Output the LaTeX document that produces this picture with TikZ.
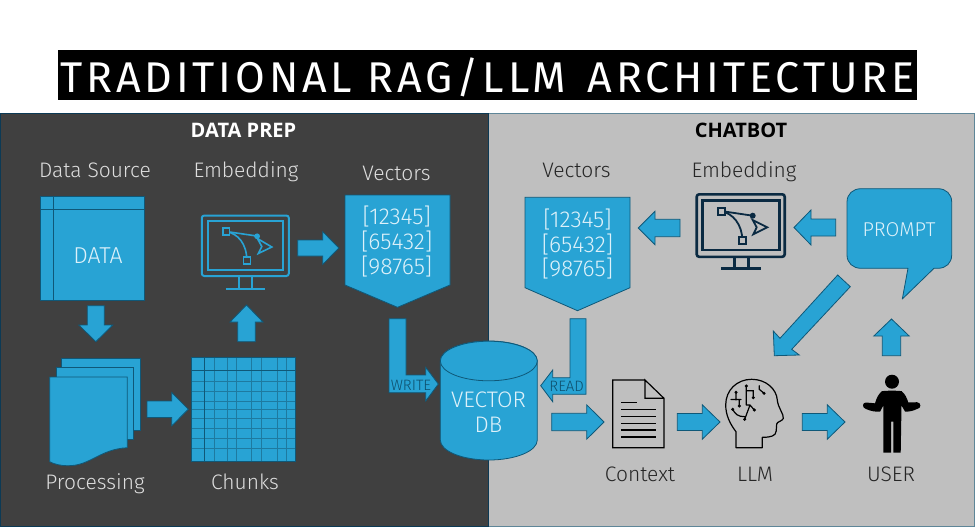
\documentclass[tikz,border=0pt]{standalone}
\usepackage{fontspec}
\setmainfont{Fira Sans}[UprightFont=* Light,BoldFont=* SemiBold]
\newfontfamily\headfont{Open Sans}
\newfontfamily\titlefont{Fira Sans}[LetterSpace=9]
\definecolor{rblue}{HTML}{28A3D4}
\definecolor{redge}{HTML}{0F5878}
\definecolor{rdark}{HTML}{404040}
\definecolor{rgray}{HTML}{BFBFBF}
\definecolor{rnavy}{HTML}{0A2A42}
\definecolor{rlight}{HTML}{DDF1FA}
\definecolor{rlabel}{HTML}{DEDEDE}
\definecolor{rink}{HTML}{262626}
\definecolor{rgrid}{HTML}{1E7AA0}
\tikzset{
  shape blue/.style={fill=rblue,draw=redge,line width=0.8pt,line join=miter},
  lab/.style={inner sep=0pt,anchor=base,yshift=-1pt,font=\fontsize{21}{21}\selectfont},
  lab dark/.style={lab,text=rlabel},
  lab light/.style={lab,text=rink},
  inblue/.style={inner sep=0pt,anchor=base,yshift=-1pt,text=rlight},
  head lab/.style={inner sep=0pt,anchor=base,yshift=-0.5pt,font=\headfont\bfseries\fontsize{20}{20}\selectfont},
  small arrow lab/.style={inner sep=0pt,anchor=base,text=redge!90!black,font=\fontsize{15}{15}\selectfont},
  dotline/.style={line width=1.2pt,draw=black,line cap=round},
}
% horizontal block arrow: xstart, xheadbase, xtip, ymid, shaft half, head half
\newcommand{\harrow}[6]{\draw[shape blue] (#1,#4-#5) -- (#2,#4-#5) -- (#2,#4-#6) -- (#3,#4) -- (#2,#4+#6) -- (#2,#4+#5) -- (#1,#4+#5) -- cycle;}
% vertical block arrow: xmid, ystart, yheadbase, ytip, shaft half, head half
\newcommand{\varrow}[6]{\draw[shape blue] (#1-#5,#2) -- (#1-#5,#3) -- (#1-#6,#3) -- (#1,#4) -- (#1+#6,#3) -- (#1+#5,#3) -- (#1+#5,#2) -- cycle;}
\begin{document}
\begin{tikzpicture}[x=1pt,y=-1pt]
\useasboundingbox (0,0) rectangle (975,528);
\fill[white] (0,0) rectangle (975,528);
% title
\fill[black] (58,50) rectangle (917,100);
\node[inner sep=0pt,anchor=base west,text=white] (title) at (60,92) {\titlefont\fontsize{43}{43}\selectfont TRADITIONAL RAG/LLM\hspace{6pt} ARCHITECTURE};
% panels
\draw[fill=rgray,draw=rgray!45!redge,line width=1pt] (488,113.5) rectangle (974.5,526.5);
\draw[fill=rdark,draw=rnavy!65!redge,line width=1pt] (0.5,113.5) rectangle (488,526.5);
\node[head lab,text=white] (dataprep) at (243.5,137) {DATA PREP};
\node[head lab,text=black] (chatbot) at (741,137) {CHATBOT};
% labels
\node[lab dark] (lsource) at (95,176.7) {Data Source};
\node[lab dark] (lemb) at (246,176.7) {Embedding};
\node[lab dark] (lvec) at (396.5,179.3) {Vectors};
\node[lab dark] (lproc) at (95,488.3) {Processing};
\node[lab dark] (lchunks) at (245,488.3) {Chunks};
\node[lab light] (lvec2) at (576.5,176.5) {Vectors};
\node[lab light] (lemb2) at (744,176.7) {Embedding};
\node[lab light] (lcontext) at (640,480.5) {Context};
\node[lab light] (lllm) at (755,480.7) {LLM};
\node[lab light] (luser) at (891,480.7) {USER};
% data box
\draw[shape blue] (40,196) rectangle (144,300);
\draw[redge,line width=0.8pt] (40,209) -- (144,209) (53,196) -- (53,300);
\node[inblue,font=\fontsize{23}{23}\selectfont] (data) at (98,262.8) {DATA};
% processing pages
\draw[shape blue] (61.7,358.7) rectangle (140,430);
\draw[shape blue] (56,367.7) rectangle (133.3,439);
\draw[shape blue] (49.7,377) -- (127.3,377) -- (127.3,447.7)
  .. controls (100,449) and (90,466) .. (68,465.7)
  .. controls (60,465.7) and (54,464) .. (49.7,461.7) -- cycle;
% chunks
\fill[rblue] (191.7,357.3) rectangle (295.7,461.7);
\foreach \xx in {214.3,227.3,236.7,251.7,261.7,277.3,286.7}
  \draw[rgrid,line width=1pt] (\xx,357.3) -- (\xx,461.7);
\foreach \yy in {381,391,401,409.3,418.3,428.3,438.3,448.3}
  \draw[rgrid,line width=1pt] (191.7,\yy) -- (295.7,\yy);
\draw[redge,line width=1pt] (204.3,357.3) -- (204.3,461.7) (191.7,370) -- (295.7,370);
\draw[redge,line width=0.8pt] (191.7,357.3) rectangle (295.7,461.7);
% left monitor
\begin{scope}[shift={(201.8,215.5)},draw=rblue,fill=rblue,line width=2pt]
  \draw[rounded corners=2.5pt] (0,0) rectangle (87,60.5);
  \draw (5.8,5.5) rectangle (81.5,54.5);
  \draw (36.8,60.5) -- (36.8,73) (50.5,60.5) -- (50.5,73);
  \draw (24,73.5) -- (63.5,73.5);
  \draw[line width=1.6pt] (24.3,16) -- (55,20.5);
  \draw[line width=1.6pt] (24.3,16) .. controls (36,18) and (45,28) .. (45,45);
  \draw[line width=1.6pt,fill=rdark] (21,12.7) rectangle (27.8,19.5);
  \draw[line width=1.6pt,fill=rdark] (41.8,41.7) rectangle (48.6,48.5);
  \fill (55.3,20.8) circle (2.9);
  \draw[line width=1.6pt,fill=rdark] (55.6,23) -- (70,31.5) -- (56.5,38) -- (60,31) -- cycle;
\end{scope}
% right monitor
\begin{scope}[shift={(696.7,194.3)},draw=rnavy,fill=rnavy,line width=2.6pt]
  \draw[rounded corners=2.5pt] (0,0) rectangle (88,62.5);
  \draw (5.5,6.4) rectangle (82.5,55.7);
  \draw (37.5,62.5) -- (37.5,74) (51.5,62.5) -- (51.5,74);
  \draw (24.5,74.4) -- (64.5,74.4);
  \draw[line width=1.8pt] (24.3,16.7) -- (56,21.4);
  \draw[line width=1.8pt] (24.3,16.7) .. controls (36,19) and (45.6,30) .. (45.6,46);
  \draw[line width=1.8pt,fill=rgray] (21,13.4) rectangle (28,20.4);
  \draw[line width=1.8pt,fill=rgray] (42,42.5) rectangle (49,49.5);
  \fill (56,21.4) circle (3);
  \draw[line width=1.8pt,fill=rgray] (56,25.7) -- (70.6,33) -- (56.6,40) -- (60,33) -- cycle;
\end{scope}
% vector pentagons
\draw[shape blue] (345,195) -- (450,195) -- (450,285) -- (397.5,307.3) -- (345,285) -- cycle;
\node[inblue,font=\fontsize{23}{23}\selectfont] (va1) at (396.7,223.5) {[12345]};
\node[inblue,font=\fontsize{23}{23}\selectfont] (va2) at (396.7,248.5) {[65432]};
\node[inblue,font=\fontsize{23}{23}\selectfont] (va3) at (396.7,273) {[98765]};
\draw[shape blue] (525,197.3) -- (630,197.3) -- (630,287.7) -- (577.5,310.7) -- (525,287.7) -- cycle;
\node[inblue,font=\fontsize{23}{23}\selectfont] (vb1) at (577.5,226) {[12345]};
\node[inblue,font=\fontsize{23}{23}\selectfont] (vb2) at (577.5,251) {[65432]};
\node[inblue,font=\fontsize{23}{23}\selectfont] (vb3) at (577.5,275.5) {[98765]};
% cylinder
\draw[shape blue] (440.3,361) -- (440.3,440) arc[start angle=180,end angle=0,x radius=48.5,y radius=20] -- (537.3,361) arc[start angle=0,end angle=-180,x radius=48.5,y radius=20] -- cycle;
\draw[shape blue] (488.8,361) ellipse[x radius=48.5,y radius=19.8];
\node[inblue,font=\fontsize{22.5}{22.5}\selectfont] (vdb1) at (488.5,406.7) {VECTOR};
\node[inblue,font=\fontsize{22.5}{22.5}\selectfont] (vdb2) at (488.5,431.3) {DB};
% document
\draw[black,line width=1.2pt,line join=miter] (645,380) -- (612.7,380) -- (612.7,447.7) -- (664,447.7) -- (664,398.3) -- (645,380) -- (645,398.3) -- (664,398.3);
\draw[black,line width=1.3pt] (621,402.3) -- (637.3,402.3);
\foreach \yy in {409.3,416.3,423.3,430,437} \draw[black,line width=1.3pt] (621,\yy) -- (655.7,\yy);
% LLM head
\draw[black,line width=1.2pt,line join=round] (736,447.7) -- (736,431.7)
  .. controls (730,424) and (725.7,415) .. (725.7,405)
  .. controls (725.7,390) and (737,379.3) .. (751.7,379.3)
  .. controls (766,379.3) and (776.5,389) .. (777.3,400)
  .. controls (778,408) and (784,414) .. (783.3,418.5)
  .. controls (782,421.5) and (777,421.5) .. (776.7,424)
  -- (776.2,431) .. controls (775.8,436) and (771,437.3) .. (762.3,437.3)
  -- (762.3,447.7) -- cycle;
\draw[dotline] (736,392.3) -- (736,400) (731,399.5) -- (741,399.5) (739.3,399.5) -- (739.3,406)
  (746.3,386) -- (746.3,405) (746.3,390.7) -- (753.3,390.7) -- (753.3,397.7)
  (750,405) -- (744.7,419.3) (750,405) -- (754.3,410)
  (746.3,405) -- (750,405)
  (732.7,409.3) .. controls (735,414) and (738,416.7) .. (744.7,416.7)
  (759.3,385.7) -- (759.3,389.3) -- (764,393.3);
\foreach \px/\py in {736/392.3,739.3/406,746.3/386,753.3/397.7,744.7/419.3,754.3/410,732.7/409.3,764/393.3}
  \fill[black] (\px,\py) circle (1.7);
% user
\fill[black] (892,381.7) circle (7);
\fill[black,line join=round] (882,391.2) .. controls (886,390.5) and (898,390.5) .. (901.7,391.2)
  .. controls (905,394) and (907,398) .. (908.3,402.5) -- (917,402.2)
  .. controls (921.5,402.5) and (921.5,408.5) .. (917,409)
  .. controls (913,411) and (908,412) .. (905,411.5) -- (901.5,405.5)
  -- (900.7,452.7) -- (893.3,452.7) -- (893.3,421.7) -- (891,421.7) -- (891,452.7) -- (883.3,452.7)
  -- (883.3,405.5) -- (880,411.7)
  .. controls (876,412) and (870,411) .. (866,409)
  .. controls (862,408) and (862,402.5) .. (866,402.5) -- (875,403.3)
  .. controls (876.5,398) and (878.5,394) .. (882,391.2) -- cycle;
% prompt bubble
\draw[shape blue,line join=round] (861,188.7) -- (938,188.7) .. controls (946,188.7) and (951.7,194) .. (951.7,202)
  -- (951.7,255) .. controls (951.7,263) and (946,268.3) .. (938,268.3) -- (934,268.3) -- (902.3,299) -- (908,268.3) -- (861,268.3)
  .. controls (853,268.3) and (847,263) .. (847,255) -- (847,202) .. controls (847,194) and (853,188.7) .. (861,188.7) -- cycle;
\node[inblue,font=\fontsize{20}{20}\selectfont] (prompt) at (899,235.7) {PROMPT};
% block arrows
\varrow{95.8}{305.7}{325}{341.7}{8.5}{17}
\harrow{147}{171.7}{188.3}{409.2}{8.2}{16.7}
\varrow{246.5}{341.7}{322}{305}{8.8}{16.5}
\harrow{297.7}{322.7}{339}{248}{8}{16.4}
\harrow{680}{655}{638.3}{228}{8.7}{16.7}
\harrow{835.7}{811}{794}{227.5}{8.5}{17.5}
\harrow{551.7}{586.7}{604}{422}{8.7}{17.2}
\harrow{677.3}{702.3}{720}{422}{8.5}{17.2}
\harrow{802.3}{827.3}{845}{422}{8.5}{17.2}
\varrow{891.5}{355.7}{336}{319}{9.2}{17.7}
\draw[shape blue] (837.7,275) -- (850.3,286.7) -- (791.7,349.3) -- (799.3,355) -- (774.3,355.7) -- (773.3,331) -- (780,338.3) -- cycle;
% write and read arrows
\draw[shape blue] (389,318.7) -- (406,318.7) -- (406,375) -- (425.7,375) -- (425.7,367.3) -- (438.3,384) -- (425.7,401) -- (425.7,392.7) -- (389,392.7) -- cycle;
\draw[shape blue] (570,318.7) -- (586,318.7) -- (586,394.3) -- (552.7,394.3) -- (552.7,401.7) -- (540.7,385.7) -- (552.7,370) -- (552.7,377.7) -- (570,377.7) -- cycle;
\node[small arrow lab] (write) at (411,390.5) {WRITE};
\node[small arrow lab] (read) at (566.7,391.5) {READ};
\end{tikzpicture}
\end{document}
